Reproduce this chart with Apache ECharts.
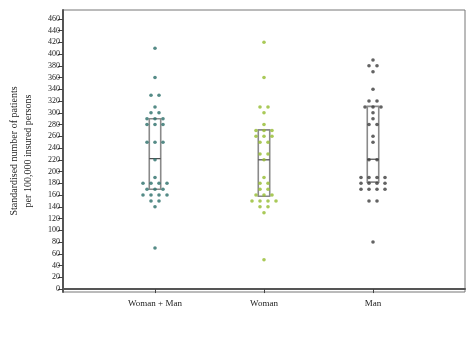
<!DOCTYPE html>
<html>
<head>
<meta charset="utf-8">
<script src="https://cdn.jsdelivr.net/npm/echarts@6/dist/echarts.min.js"></script>
<style>html,body{margin:0;padding:0;background:#fff}#c{width:474px;height:338px}</style>
</head>
<body>
<div id="c"></div>
<script>
const categories = ['Woman + Man', 'Woman', 'Man'];
const womanManValues = [410,360,330,330,310,300,300,290,290,290,280,280,280,250,250,250,220,190,180,180,180,180,170,170,170,160,160,160,160,150,150,140,70];
const womanValues = [420,360,310,310,300,280,270,270,270,260,260,260,250,250,230,230,220,190,180,180,170,170,160,160,160,150,150,150,150,140,140,130,50];
const manValues = [390,380,380,370,340,320,320,310,310,310,300,290,280,280,260,250,220,220,190,190,190,190,180,180,180,180,170,170,170,170,150,150,80];
const boxLower = [170, 158, 182];
const boxMedian = [222, 220, 221];
const boxUpper = [290, 271, 311];
const yTicks = [0,20,40,60,80,100,120,140,160,180,200,220,240,260,280,300,320,340,360,380,400,420,440,460];

const groups = [womanManValues, womanValues, manValues];
const colors = ['#2b6e69', '#94bb2e', '#3c3c3c'];
const dotSpacing = 0.0734;

function swarm(values, center) {
  const counts = {};
  values.forEach(v => { counts[v] = (counts[v] || 0) + 1; });
  const out = [];
  Object.keys(counts).forEach(k => {
    const n = counts[k];
    for (let i = 0; i < n; i++) {
      out.push([center + (i - (n - 1) / 2) * dotSpacing, Number(k)]);
    }
  });
  return out;
}

const boxData = categories.map((c, i) => [i + 1, boxLower[i], boxMedian[i], boxUpper[i]]);
const boxW = 0.105;

const series = [{
  type: 'custom',
  data: boxData,
  renderItem: function (params, api) {
    const x = api.value(0), lo = api.value(1), med = api.value(2), hi = api.value(3);
    const tl = api.coord([x - boxW / 2, hi]);
    const br = api.coord([x + boxW / 2, lo]);
    const ml = api.coord([x - boxW / 2, med]);
    const mr = api.coord([x + boxW / 2, med]);
    return {
      type: 'group',
      children: [
        { type: 'rect', shape: { x: tl[0], y: tl[1], width: br[0] - tl[0], height: br[1] - tl[1] },
          style: { fill: 'none', stroke: '#8a8a8a', lineWidth: 1.6 } },
        { type: 'line', shape: { x1: ml[0], y1: ml[1], x2: mr[0], y2: mr[1] },
          style: { stroke: '#4a4a4a', lineWidth: 1.2 } }
      ]
    };
  },
  z: 2
}];
groups.forEach((vals, i) => {
  series.push({
    type: 'scatter',
    data: swarm(vals, i + 1),
    symbol: 'circle',
    symbolSize: 3.6,
    itemStyle: { color: colors[i] },
    z: 3
  });
});

const chart = echarts.init(document.getElementById('c'), null, { renderer: 'canvas' });
chart.setOption({
  animation: false,
  backgroundColor: '#fff',
  grid: { left: 63, right: 9, top: 10, bottom: 46, show: true, borderColor: '#777', borderWidth: 1,
    containLabel: false, outerBoundsMode: 'none' },
  xAxis: {
    type: 'value', min: 0.156, max: 3.844,
    splitLine: { show: false },
    axisLine: { show: true, lineStyle: { color: '#555', width: 2 } },
    axisTick: { show: true, customValues: [1, 2, 3], length: 4, lineStyle: { color: '#444' } },
    axisLabel: { customValues: [1, 2, 3], formatter: v => categories[Math.round(v) - 1],
      fontFamily: 'Liberation Serif', fontSize: 9, color: '#222', margin: 7 }
  },
  yAxis: {
    type: 'value', min: -5, max: 475,
    name: 'Standardised number of patients\nper 100,000 insured persons',
    nameLocation: 'middle', nameRotate: 90, nameGap: 28,
    nameTextStyle: { fontFamily: 'Liberation Serif', fontSize: 10, color: '#222', lineHeight: 14 },
    splitLine: { show: false },
    axisLine: { show: true, lineStyle: { color: '#555', width: 2 } },
    axisTick: { show: true, customValues: yTicks, length: 5, lineStyle: { color: '#444' } },
    axisLabel: { customValues: yTicks, fontFamily: 'Liberation Serif', fontSize: 8, color: '#222', margin: 3 }
  },
  series: series
});
</script>
</body>
</html>
